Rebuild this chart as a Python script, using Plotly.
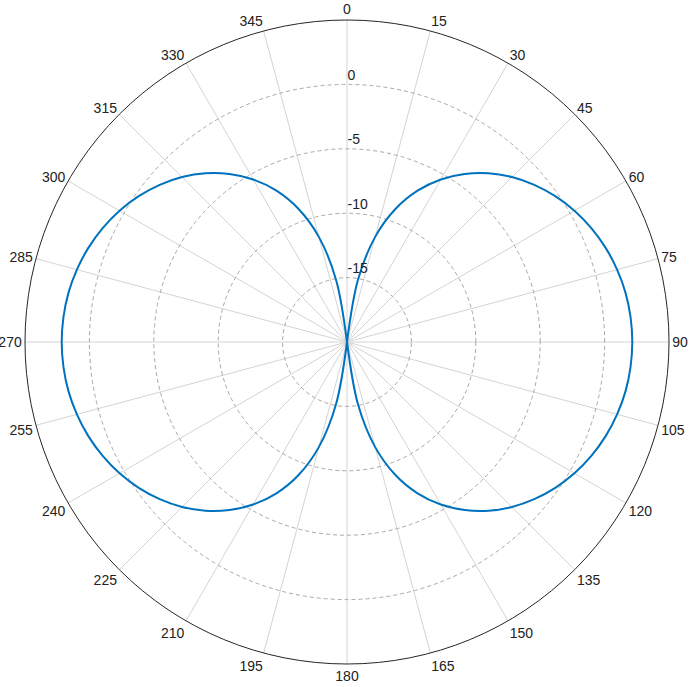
import plotly.graph_objects as go

theta_deg = [0, 5, 10, 15, 20, 25, 30, 35, 40, 45, 50, 55, 60, 65, 70, 75, 80, 85,
             90, 95, 100, 105, 110, 115, 120, 125, 130, 135, 140, 145, 150, 155, 160, 165, 170, 175,
             180, 185, 190, 195, 200, 205, 210, 215, 220, 225, 230, 235, 240, 245, 250, 255, 260, 265,
             270, 275, 280, 285, 290, 295, 300, 305, 310, 315, 320, 325, 330, 335, 340, 345, 350, 355, 360]
gain_db = [-20.0, -20.0, -15.09, -11.55, -9.01, -7.04, -5.43, -4.08, -2.90, -1.89, -1.02, -0.26, 0.39, 0.93, 1.37, 1.71, 1.96, 2.10,
           2.15, 2.10, 1.96, 1.71, 1.37, 0.93, 0.39, -0.26, -1.02, -1.89, -2.90, -4.08, -5.43, -7.04, -9.01, -11.55, -15.09, -20.0,
           -20.0, -20.0, -15.09, -11.55, -9.01, -7.04, -5.43, -4.08, -2.90, -1.89, -1.02, -0.26, 0.39, 0.93, 1.37, 1.71, 1.96, 2.10,
           2.15, 2.10, 1.96, 1.71, 1.37, 0.93, 0.39, -0.26, -1.02, -1.89, -2.90, -4.08, -5.43, -7.04, -9.01, -11.55, -15.09, -20.0, -20.0]

angular_ticks = list(range(0, 360, 15))
radial_ticks = [-15, -10, -5, 0]
radial_range = [-20, 5]

fig = go.Figure()
fig.add_trace(go.Scatterpolar(
    r=gain_db, theta=theta_deg, mode="lines",
    line=dict(color="#0072BD", width=2, shape="spline", smoothing=1.0),
    showlegend=False, hoverinfo="skip",
))

fig.update_layout(
    width=691, height=687,
    margin=dict(l=25, r=22, t=20, b=23),
    paper_bgcolor="white",
    font=dict(family="Liberation Sans, Arial, sans-serif", size=14, color="#222222"),
    polar=dict(
        bgcolor="white",
        domain=dict(x=[0, 1], y=[0, 1]),
        angularaxis=dict(
            rotation=90, direction="clockwise",
            tickmode="array", tickvals=angular_ticks,
            ticktext=[str(t) for t in angular_ticks],
            showline=True, linecolor="#262626", linewidth=1,
            showgrid=True, gridcolor="#d4d4d4", gridwidth=1,
            ticks="", tickfont=dict(size=14, color="#222222"),
        ),
        radialaxis=dict(
            range=radial_range, angle=90, side="clockwise",
            tickmode="array", tickvals=radial_ticks,
            ticktext=[str(t) + "<br> " for t in radial_ticks],
            showline=False, ticks="",
            showgrid=True, gridcolor="#a8a8a8", gridwidth=1, griddash="4px,3px",
            tickfont=dict(size=14, color="#222222"),
            tickangle=90,
        ),
    ),
)

fig.write_html("out.html", config={"displayModeBar": False},
               post_script="document.body.style.margin='0';")
